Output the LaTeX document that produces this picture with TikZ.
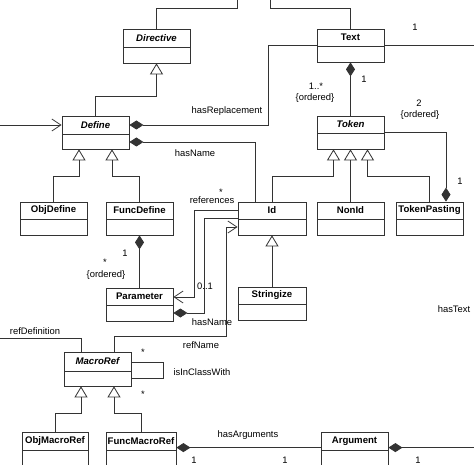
\documentclass[tikz,border=0pt]{standalone}
\usepackage{fontspec}
\setmainfont{Liberation Sans}
\usetikzlibrary{arrows.meta,calc,fit}
\tikzset{
  ln/.style={draw=black!80, line width=0.8pt},
  clsbox/.style={ln, inner sep=0pt, fill=white},
  cname/.style={font=\fontsize{9.6}{11}\selectfont\bfseries, inner sep=0pt},
  aname/.style={font=\fontsize{9.6}{11}\selectfont\bfseries\itshape, inner sep=0pt},
  lbl/.style={font=\fontsize{9.4}{11}\selectfont, inner sep=0pt},
  gen/.style={ln, -{Triangle[open, width=13pt, length=11pt]}},
  comp/.style={ln, -{Diamond[width=9pt, length=14pt]}},
  nav/.style={ln, -{Straight Barb[length=9pt, width=12pt]}},
}
\newcommand\umlclass[8]{%
  \node[clsbox, fit={(#2,#3) (#4,#5)}] (#1) {};
  \draw[ln] (#2,#6) -- (#4,#6);
  \node[#7] (#1-t) at ({(#2+#4)/2},{(#3+#6)/2}) {#8};
}
\begin{document}
\begin{tikzpicture}[x=1pt,y=-1pt]
\fill[white] (0,0) rectangle (474,465);
\useasboundingbox (0,0) rectangle (474,465);

% classes
\umlclass{directive}{123}{29}{190}{63}{47.5}{aname}{Directive}
\umlclass{text}{317}{29}{384}{62}{46}{cname}{Text}
\umlclass{define}{62}{116}{129}{149}{134}{aname}{Define}
\umlclass{token}{317}{116}{384}{149}{133}{aname}{Token}
\umlclass{objdefine}{20}{202}{87}{235}{219}{cname}{ObjDefine}
\umlclass{funcdefine}{106}{202}{173}{235}{219}{cname}{FuncDefine}
\umlclass{id}{238}{202}{306}{235}{219}{cname}{Id}
\umlclass{nonid}{317}{202}{384}{235}{219}{cname}{NonId}
\umlclass{tokenpasting}{396}{202}{463}{235}{219}{cname}{TokenPasting}
\umlclass{parameter}{106}{288}{173}{321}{305}{cname}{Parameter}
\umlclass{stringize}{238}{287}{306}{320}{304}{cname}{Stringize}
\umlclass{macroref}{64}{352}{131}{386}{371}{aname}{MacroRef}
\umlclass{objmacroref}{22}{432}{88}{480}{450}{cname}{ObjMacroRef}
\umlclass{funcmacroref}{106}{432}{176}{480}{450}{cname}{FuncMacroRef}
\umlclass{argument}{321}{432}{388}{480}{450}{cname}{Argument}

% free ends
\coordinate (topA) at (237,-5);
\coordinate (topB) at (270,-5);
\coordinate (leftA) at (-5,125);
\coordinate (leftB) at (-5,338);
\coordinate (rightA) at (480,45.5);
\coordinate (rightB) at (476,447.6);

% lines leaving the picture
\draw[ln] (directive.north) -- ++(0,-20) -| (topA);
\draw[ln] (text.north) -- ++(0,-20) -| (topB);
\draw[ln] (text.east) -- (rightA);
\draw[ln] ([xshift=-16.5pt]macroref.north) |- (leftB);

% generalizations
\draw[gen] (define.north) -- ++(0,-19) -| (directive.south);
\draw[gen] (objdefine.north) -- ++(0,-25) -| ([xshift=-16.5pt]define.south);
\draw[gen] (funcdefine.north) -- ++(0,-25) -| ([xshift=16.5pt]define.south);
\draw[gen] (id.north) -- ++(0,-25) -| ([xshift=-17pt]token.south);
\draw[gen] (nonid.north) -- (token.south);
\draw[gen] (tokenpasting.north) -- ++(0,-25) -| ([xshift=17pt]token.south);
\draw[gen] (stringize.north) -- (id.south);
\draw[gen] (objmacroref.north) -- ++(0,-18) -| ([xshift=-16.5pt]macroref.south);
\draw[gen] (funcmacroref.north) -- ++(0,-18) -| ([xshift=16.5pt]macroref.south);

% compositions
\draw[comp] (token.north) -- (text.south);
\draw[comp] (text.west) -- ++(-48,0) |- ($(define.east)+(0,-7.5)$);
\draw[comp] ([xshift=-17pt]id.north) |- ($(define.east)+(0,9.5)$);
\draw[comp] (token.east) -| ([xshift=16.5pt]tokenpasting.north);
\draw[comp] (parameter.north) -- (funcdefine.south);
\draw[comp] (id.west) -- ++(-33,0) |- ($(parameter.east)+(0,8.5)$);
\draw[comp] ($(argument.north west)+(0,16)$) -- ($(funcmacroref.north east)+(0,16)$);
\draw[comp] (rightB) -- (argument.east |- rightB);

% navigable associations
\draw[nav] (leftA) -- ($(define.west)+(0,-7.5)$);
\draw[nav] ($(id.west)+(0,-8.5)$) -- ++(-43,0) |- ($(parameter.east)+(0,-7.5)$);
\draw[nav] ([xshift=16.5pt]macroref.north) -- ++(0,-15) -| ($(id.west)+(-11,8.5)$) -- ($(id.west)+(0,8.5)$);
\draw[ln] ($(macroref.east)+(0,-7)$) -- ++(32,0) |- ($(macroref.east)+(0,9)$);

% labels
\node[lbl] (L1) at (415,27) {1};
\node[lbl] (L2) at (227,111) {hasReplacement};
\node[lbl] (L3) at (195,153) {hasName};
\node[lbl] (L4) at (364,79) {1};
\node[lbl] (L5) at (316,86) {1..*};
\node[lbl] (L6) at (315,98) {\{ordered\}};
\node[lbl] (L7) at (419,103) {2};
\node[lbl] (L8) at (420,115) {\{ordered\}};
\node[lbl] (L9) at (460,181) {1};
\node[lbl] (L10) at (221,192) {*};
\node[lbl] (L11) at (212,200) {references};
\node[lbl] (L12) at (125,253) {1};
\node[lbl] (L13) at (105,262) {*};
\node[lbl] (L14) at (106,275) {\{ordered\}};
\node[lbl] (L15) at (205,286) {0..1};
\node[lbl] (L16) at (212,322) {hasName};
\node[lbl] (L17) at (454,309) {hasText};
\node[lbl] (L18) at (35,331) {refDefinition};
\node[lbl] (L19) at (201,345) {refName};
\node[lbl] (L20) at (143,352) {*};
\node[lbl] (L21) at (202,372) {isInClassWith};
\node[lbl] (L22) at (143,394) {*};
\node[lbl] (L23) at (248,435) {hasArguments};
\node[lbl, anchor=south] (L24) at (194,464) {1};
\node[lbl, anchor=south] (L25) at (285,464) {1};
\node[lbl, anchor=south] (L26) at (418,464) {1};
\end{tikzpicture}
\end{document}
